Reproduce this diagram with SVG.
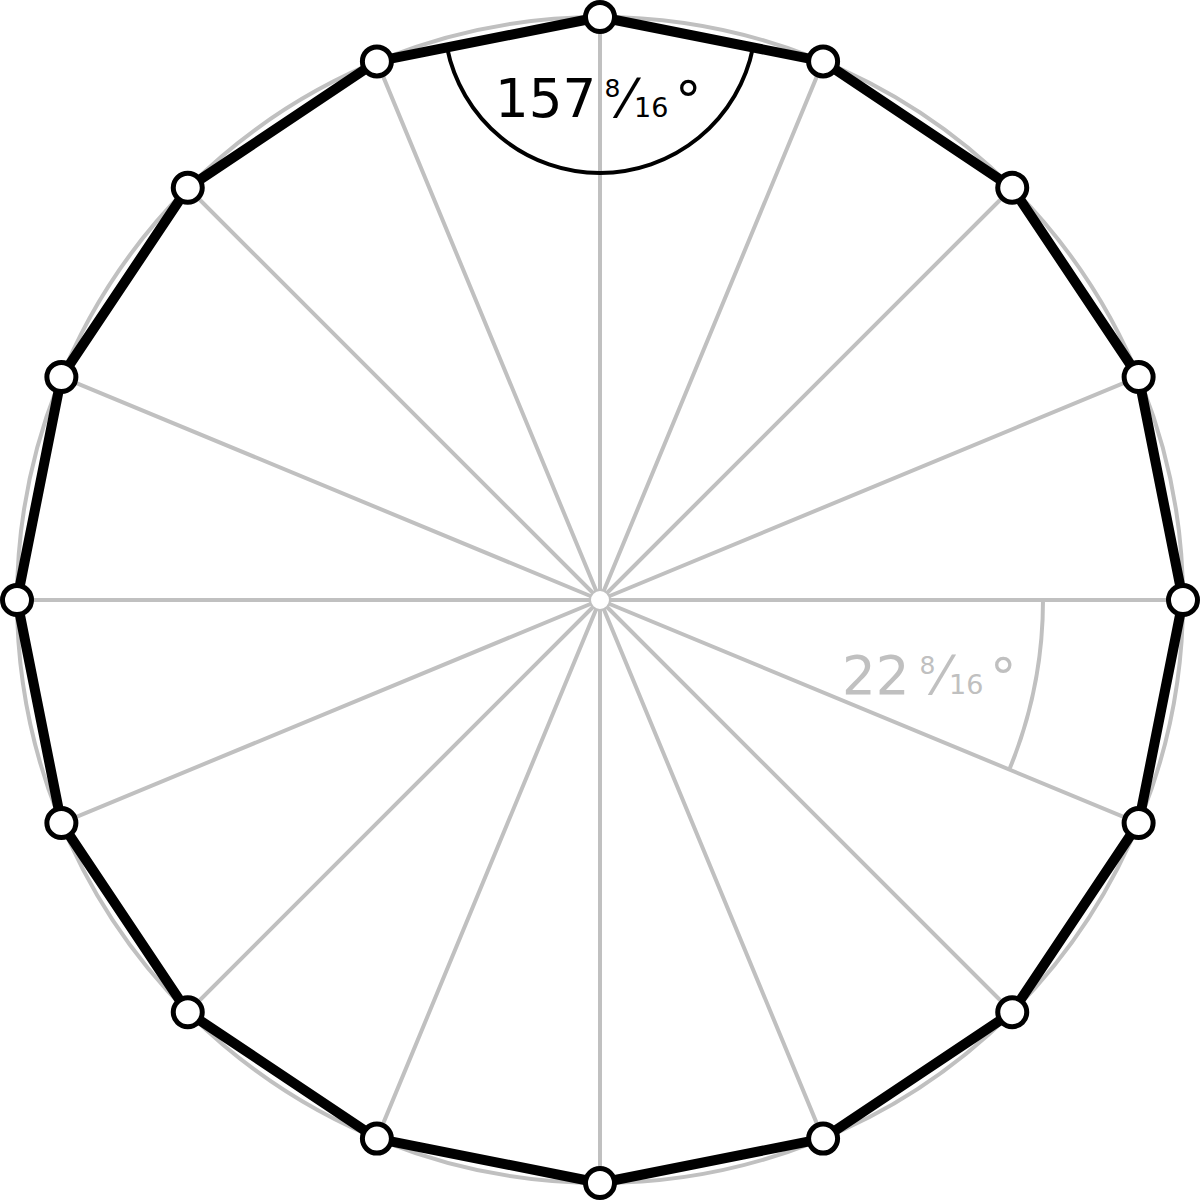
<svg xmlns="http://www.w3.org/2000/svg" width="1200" height="1200" viewBox="0 0 1200 1200">
<style>
.g{fill:none;stroke:#c0c0c0;stroke-width:4}
.edge{fill:none;stroke:#000;stroke-width:10;stroke-linejoin:round}
.v{fill:#fff;stroke:#000;stroke-width:5}
.t{font-family:"DejaVu Sans",sans-serif}
.blk{fill:#000}
.gry{fill:#c0c0c0}
</style>
<rect width="1200" height="1200" fill="#fff"/>
<g id="circumcircle"><circle class="g" cx="600" cy="600" r="583"/></g>
<g id="connectors">
<path class="g" d="M600,600L600,17M600,600L823.1,61.38M600,600L1012.24,187.76M600,600L1138.62,376.9M600,600L1183,600M600,600L1138.62,823.1M600,600L1012.24,1012.24M600,600L823.1,1138.62M600,600L600,1183M600,600L376.9,1138.62M600,600L187.76,1012.24M600,600L61.38,823.1M600,600L17,600M600,600L61.38,376.9M600,600L187.76,187.76M600,600L376.9,61.38"/>
<polygon class="edge" points="600,17 823.1,61.38 1012.24,187.76 1138.62,376.9 1183,600 1138.62,823.1 1012.24,1012.24 823.1,1138.62 600,1183 376.9,1138.62 187.76,1012.24 61.38,823.1 17,600 61.38,376.9 187.76,187.76 376.9,61.38"/>
</g>
<g id="center"><circle cx="600" cy="600" r="10" fill="#fff" stroke="#c0c0c0" stroke-width="2"/></g>
<g id="central-angle">
<path class="g" d="M1043,600A443,443 0 0 1 1009.28,769.53"/>
<text class="t gry" x="842" y="694" font-size="53">22</text>
<text class="t gry" x="919.5" y="673.5" font-size="25">8</text>
<text class="t gry" x="942" y="694" font-size="53" text-anchor="middle">⁄</text>
<text class="t gry" x="949" y="694" font-size="27">16</text>
<text class="t gry" x="990" y="696" font-size="53">°</text>
</g>
<g id="interior-angle">
<path d="M447,47.43A156,156 0 0 0 753,47.43" fill="none" stroke="#000" stroke-width="4"/>
<text class="t blk" x="495" y="117" font-size="53">157</text>
<text class="t blk" x="604.5" y="96.5" font-size="25">8</text>
<text class="t blk" x="627" y="117" font-size="53" text-anchor="middle">⁄</text>
<text class="t blk" x="634" y="117" font-size="27">16</text>
<text class="t blk" x="675" y="119" font-size="53">°</text>
</g>
<g id="vertices">
<circle id="v0" class="v" cx="600" cy="17" r="14.5"/>
<circle id="v1" class="v" cx="823.1" cy="61.38" r="14.5"/>
<circle id="v2" class="v" cx="1012.24" cy="187.76" r="14.5"/>
<circle id="v3" class="v" cx="1138.62" cy="376.9" r="14.5"/>
<circle id="v4" class="v" cx="1183" cy="600" r="14.5"/>
<circle id="v5" class="v" cx="1138.62" cy="823.1" r="14.5"/>
<circle id="v6" class="v" cx="1012.24" cy="1012.24" r="14.5"/>
<circle id="v7" class="v" cx="823.1" cy="1138.62" r="14.5"/>
<circle id="v8" class="v" cx="600" cy="1183" r="14.5"/>
<circle id="v9" class="v" cx="376.9" cy="1138.62" r="14.5"/>
<circle id="v10" class="v" cx="187.76" cy="1012.24" r="14.5"/>
<circle id="v11" class="v" cx="61.38" cy="823.1" r="14.5"/>
<circle id="v12" class="v" cx="17" cy="600" r="14.5"/>
<circle id="v13" class="v" cx="61.38" cy="376.9" r="14.5"/>
<circle id="v14" class="v" cx="187.76" cy="187.76" r="14.5"/>
<circle id="v15" class="v" cx="376.9" cy="61.38" r="14.5"/>
</g>
</svg>
